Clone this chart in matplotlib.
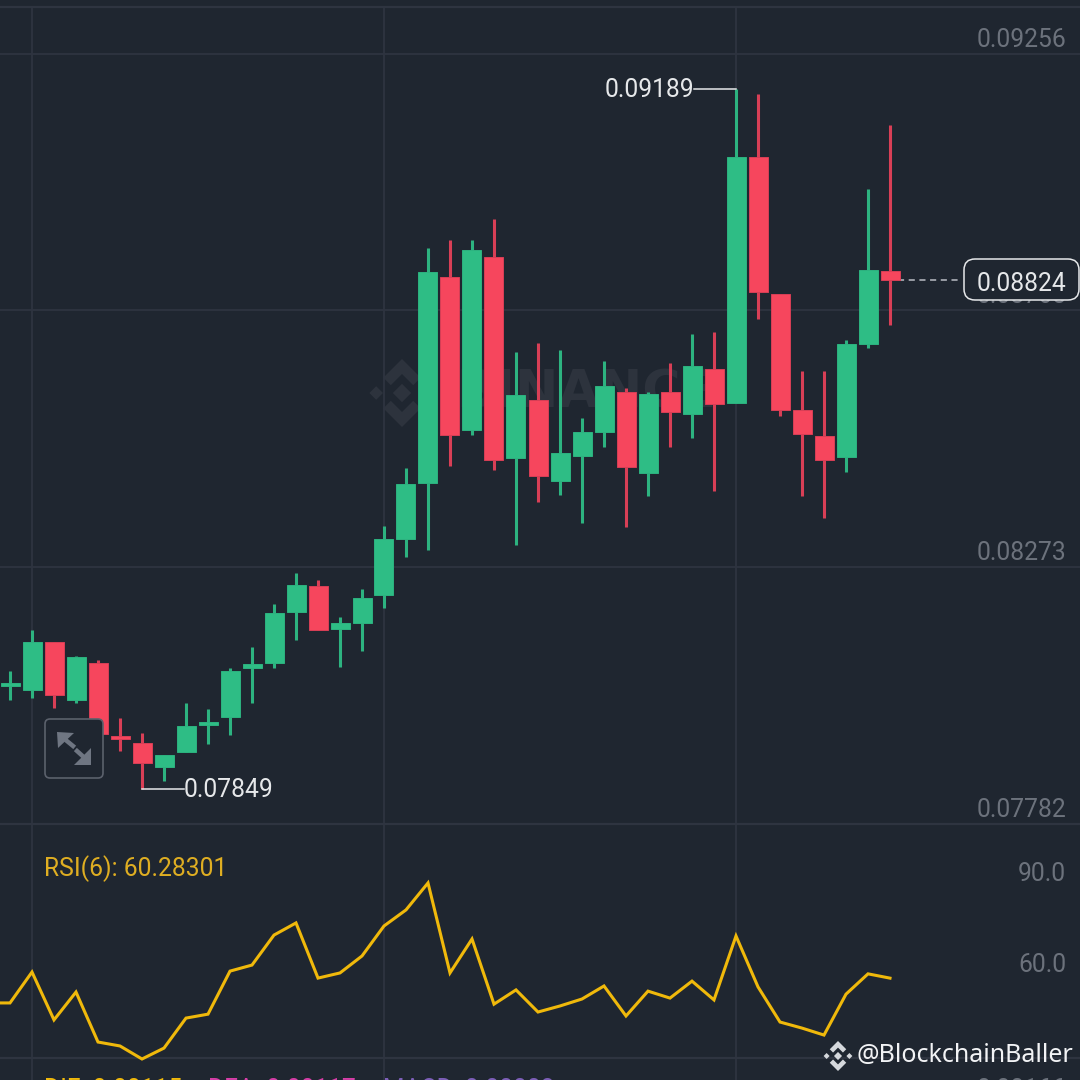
import matplotlib

matplotlib.use("Agg")
import matplotlib.pyplot as plt
from matplotlib.patches import FancyBboxPatch, Polygon

opens = [0.08047, 0.08039, 0.08131, 0.08020, 0.08091, 0.07951, 0.07938, 0.07892, 0.07919, 0.07972, 0.07986,
         0.08080, 0.08091, 0.08187, 0.08238, 0.08156, 0.08166, 0.08221, 0.08328, 0.08435, 0.08829, 0.08537,
         0.08868, 0.08483, 0.08594, 0.08439, 0.08487, 0.08533, 0.08609, 0.08454, 0.08609, 0.08567, 0.08653,
         0.08588, 0.09059, 0.08797, 0.08575, 0.08525, 0.08485, 0.08701, 0.08841]
highs = [0.08074, 0.08154, 0.08131, 0.08103, 0.08095, 0.07984, 0.07957, 0.07915, 0.08014, 0.08003, 0.08080,
         0.08120, 0.08204, 0.08263, 0.08250, 0.08179, 0.08231, 0.08353, 0.08464, 0.08885, 0.08900, 0.08900,
         0.08940, 0.08686, 0.08703, 0.08690, 0.08560, 0.08669, 0.08617, 0.08609, 0.08665, 0.08720, 0.08724,
         0.09189, 0.09179, 0.08797, 0.08650, 0.08650, 0.08709, 0.08998, 0.09120]
lows = [0.08020, 0.08024, 0.08005, 0.08014, 0.07955, 0.07921, 0.07849, 0.07865, 0.07919, 0.07936, 0.07953,
        0.08013, 0.08080, 0.08135, 0.08154, 0.08083, 0.08114, 0.08196, 0.08294, 0.08307, 0.08468, 0.08527,
        0.08460, 0.08317, 0.08399, 0.08412, 0.08359, 0.08504, 0.08351, 0.08409, 0.08504, 0.08521, 0.08420,
        0.08588, 0.08749, 0.08563, 0.08410, 0.08368, 0.08456, 0.08694, 0.08738]
closes = [0.08051, 0.08131, 0.08028, 0.08101, 0.07955, 0.07944, 0.07898, 0.07915, 0.07970, 0.07978, 0.08074,
          0.08089, 0.08185, 0.08240, 0.08154, 0.08166, 0.08215, 0.08328, 0.08433, 0.08839, 0.08527, 0.08881,
          0.08479, 0.08604, 0.08449, 0.08493, 0.08533, 0.08621, 0.08466, 0.08606, 0.08571, 0.08659, 0.08586,
          0.09059, 0.08801, 0.08575, 0.08529, 0.08479, 0.08701, 0.08843, 0.08824]

# first value belongs to the candle just off the left edge
rsi = [52.1, 52.1, 62.3, 46.5, 55.7, 39.2, 37.9, 33.6, 37.2, 47.1, 48.4, 62.6, 64.6, 74.5, 78.5, 60.3, 62.0,
       67.6, 77.5, 82.8, 91.7, 62.0, 73.2, 51.7, 56.4, 49.1, 51.1, 53.4, 57.7, 47.8, 56.0, 53.7, 59.3, 53.1,
       74.2, 57.4, 45.8, 43.8, 41.5, 55.0, 61.7, 60.28301]

price_ticks = [0.09256, 0.08765, 0.08273, 0.07782]
rsi_ticks = [90.0, 60.0]
macd_legend = [("DIF: 0.00115", "#f0b90b"), ("DEA: 0.00117", "#d63ea8"), ("MACD: 0.00003", "#7d5fb8")]

BG = "#1f2630"
GRID = "#2e3440"
GREEN = "#2ebd85"
RED = "#f6465d"
AXIS_TEXT = "#6c727c"
LABEL = "#e6e8ea"
YELLOW = "#f0b90b"
FS = 17.7
W = 1080

plt.rcParams["font.family"] = ["Roboto", "DejaVu Sans"]


def pane(fig, top, bottom, zorder=2):
    ax = fig.add_axes([0, (W - bottom) / W, 1, (bottom - top) / W], zorder=zorder)
    ax.patch.set_visible(False)
    for s in ax.spines.values():
        s.set_visible(False)
    ax.tick_params(left=False, bottom=False, labelleft=False, labelbottom=False)
    ax.set_xlim(-10 / 22, 1070 / 22)
    return ax


def logo(ax, cx, cy, r, color, zorder=1):
    shapes = [
        [(0, -0.27), (0.27, 0), (0, 0.27), (-0.27, 0)],
        [(-0.76, -0.2), (-0.56, 0), (-0.76, 0.2), (-0.96, 0)],
        [(0.76, -0.2), (0.96, 0), (0.76, 0.2), (0.56, 0)],
        [(0, -1), (0.55, -0.45), (0.33, -0.23), (0, -0.56), (-0.33, -0.23), (-0.55, -0.45)],
        [(0, 1), (0.55, 0.45), (0.33, 0.23), (0, 0.56), (-0.33, 0.23), (-0.55, 0.45)],
    ]
    for pts in shapes:
        ax.add_patch(Polygon([(cx + x * r, cy + y * r) for x, y in pts], color=color, lw=0, zorder=zorder))


fig = plt.figure(figsize=(10.8, 10.8), dpi=100, facecolor=BG)

# pixel space layers for the watermark and the phone UI bits
back = fig.add_axes([0, 0, 1, 1], zorder=0)
back.set_xlim(0, W)
back.set_ylim(W, 0)
back.axis("off")
front = fig.add_axes([0, 0, 1, 1], zorder=5)
front.set_xlim(0, W)
front.set_ylim(W, 0)
front.axis("off")

logo(back, 402, 393, 34, "#2d333d")
back.text(456, 394, "BINANCE", family="DejaVu Sans", weight="bold", fontsize=37.5, color="#2d333d",
          ha="left", va="center")
for y in [7, 824, 1058]:
    back.axhline(y, color=GRID, lw=1.6)

ax = pane(fig, 8, 824)
ax.set_ylim(0.07782, 0.09344)
rsi_ax = pane(fig, 824, 1058)
rsi_ax.set_ylim(33.93, 111.15)
macd_ax = pane(fig, 1058, W)

xs = list(range(len(opens)))
for a in (ax, rsi_ax, macd_ax):
    a.set_xticks([1, 17, 33])
    a.grid(True, axis="x", color=GRID, lw=1.3)
    a.set_axisbelow(True)
ax.set_yticks(price_ticks)
ax.grid(True, axis="y", color=GRID, lw=1.3)

colors = [GREEN if c >= o else RED for o, c in zip(opens, closes)]
wick_colors = ["#2db380" if c >= o else "#d83f56" for o, c in zip(opens, closes)]
ax.vlines(xs, lows, highs, colors=wick_colors, lw=2.2, zorder=3)
body_low = [min(o, c) for o, c in zip(opens, closes)]
body_h = [abs(c - o) for o, c in zip(opens, closes)]
ax.bar(xs, body_h, bottom=body_low, width=19 / 22, color=colors, edgecolor=wick_colors, lw=0.7, zorder=4)

for t in price_ticks:
    ax.annotate(f"{t:.5f}", xy=(1066 / W, t), xycoords=ax.get_yaxis_transform(), xytext=(0, 10.2),
                textcoords="offset points", ha="right", va="center", fontsize=FS, color=AXIS_TEXT, zorder=2)

# high and low markers
hi = highs.index(max(highs))
lo = lows.index(min(lows))
ax.plot([hi - 42 / 22, hi], [highs[hi], highs[hi]], color=LABEL, lw=1.1, zorder=5)
ax.annotate(f"{highs[hi]:.5f}", xy=(hi - 42 / 22, highs[hi]), xytext=(0, -0.7), textcoords="offset points",
            ha="right", va="center", fontsize=FS, color=LABEL, zorder=5)
ax.plot([lo, lo + 42 / 22], [lows[lo], lows[lo]], color=LABEL, lw=1.1, zorder=5)
ax.annotate(f"{lows[lo]:.5f}", xy=(lo + 42 / 22, lows[lo]), xytext=(0, -0.7), textcoords="offset points",
            ha="left", va="center", fontsize=FS, color=LABEL, zorder=5)

# last price tag
last = closes[-1]
ax.plot([xs[-1] + 8 / 22, xs[-1] + 72 / 22], [last, last], color="#b9bdc4", lw=1.1, ls=(0, (4, 3)), zorder=3)
front.add_patch(FancyBboxPatch((964, 259), 115, 41, boxstyle="round,pad=0,rounding_size=11", ec=LABEL, fc=BG,
                               lw=1.1, zorder=2))
front.annotate(f"{last:.5f}", xy=(1066, 284), ha="right", va="center", fontsize=FS, color=LABEL, zorder=3)

# rsi pane
rsi_xs = [i - 1 for i in range(len(rsi))]
rsi_ax.plot(rsi_xs, rsi, color=YELLOW, lw=2.2, solid_joinstyle="miter", clip_on=False, zorder=4)
for t in rsi_ticks:
    rsi_ax.annotate(f"{t:.1f}", xy=(1066 / W, t), xycoords=rsi_ax.get_yaxis_transform(), xytext=(0, 10.2),
                    textcoords="offset points", ha="right", va="center", fontsize=FS, color=AXIS_TEXT)
front.text(44, 868.5, f"RSI(6): {rsi[-1]:.5f}", fontsize=FS, color="#dfae22", ha="left", va="center")

# macd pane is cut off by the bottom of the picture
for (txt, col), x in zip(macd_legend, [44, 208, 383]):
    front.text(x, 1090, txt, fontsize=FS, color=col, ha="left", va="center")
front.text(1066, 1090, "0.00166", fontsize=FS, color=AXIS_TEXT, ha="right", va="center")

# expand button
front.add_patch(FancyBboxPatch((45, 719), 58, 59, boxstyle="round,pad=0,rounding_size=5", ec="#5b616c", fc=BG,
                               lw=1.2, zorder=2))
ICON = "#6f7682"
front.add_patch(Polygon([(57, 732), (74, 733), (58, 748)], color=ICON, lw=0, zorder=3))
front.add_patch(Polygon([(91, 765), (74, 765), (91, 748)], color=ICON, lw=0, zorder=3))
front.plot([62, 73], [737, 746], color=ICON, lw=3.2, zorder=3)
front.plot([77, 87], [751, 760], color=ICON, lw=3.2, zorder=3)

# account mark
logo(front, 838, 1056, 15, "#d5d8dc", zorder=6)
front.text(856, 1056, "@BlockchainBaller", family="Noto Sans", fontsize=18, color="#f2f3f5", ha="left",
           va="center", zorder=6)

fig.savefig("out.png", dpi=100, facecolor=BG)
plt.close()
